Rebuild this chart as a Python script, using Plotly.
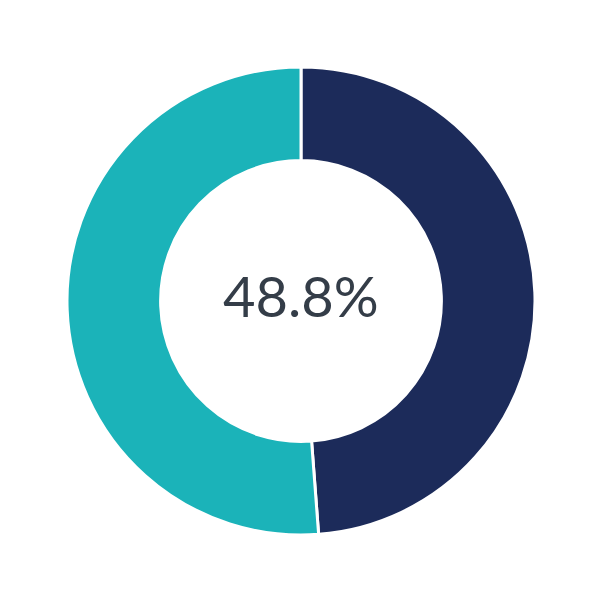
import plotly.graph_objects as go

labels = ["Share", "Rest"]
values = [48.8, 51.2]
colors = ["#1c2b5a", "#1bb3b9"]
center_text = "48.8%"

fig = go.Figure(go.Pie(
    labels=labels,
    values=values,
    hole=0.6,
    sort=False,
    direction="clockwise",
    rotation=0,
    marker=dict(colors=colors, line=dict(color="white", width=3)),
    textinfo="none",
    hoverinfo="label+percent",
    showlegend=False,
))

fig.add_annotation(
    text=center_text, x=0.5, y=0.5, xref="paper", yref="paper",
    yshift=6, showarrow=False,
    font=dict(family="Lato", size=56, color="#343d48"),
)

# page body adds ~8px offset, so margins are skewed to keep the ring centred
fig.update_layout(
    width=600, height=600,
    margin=dict(l=59, r=73, t=59, b=73),
    paper_bgcolor="white",
)

fig.write_html("out.html")
